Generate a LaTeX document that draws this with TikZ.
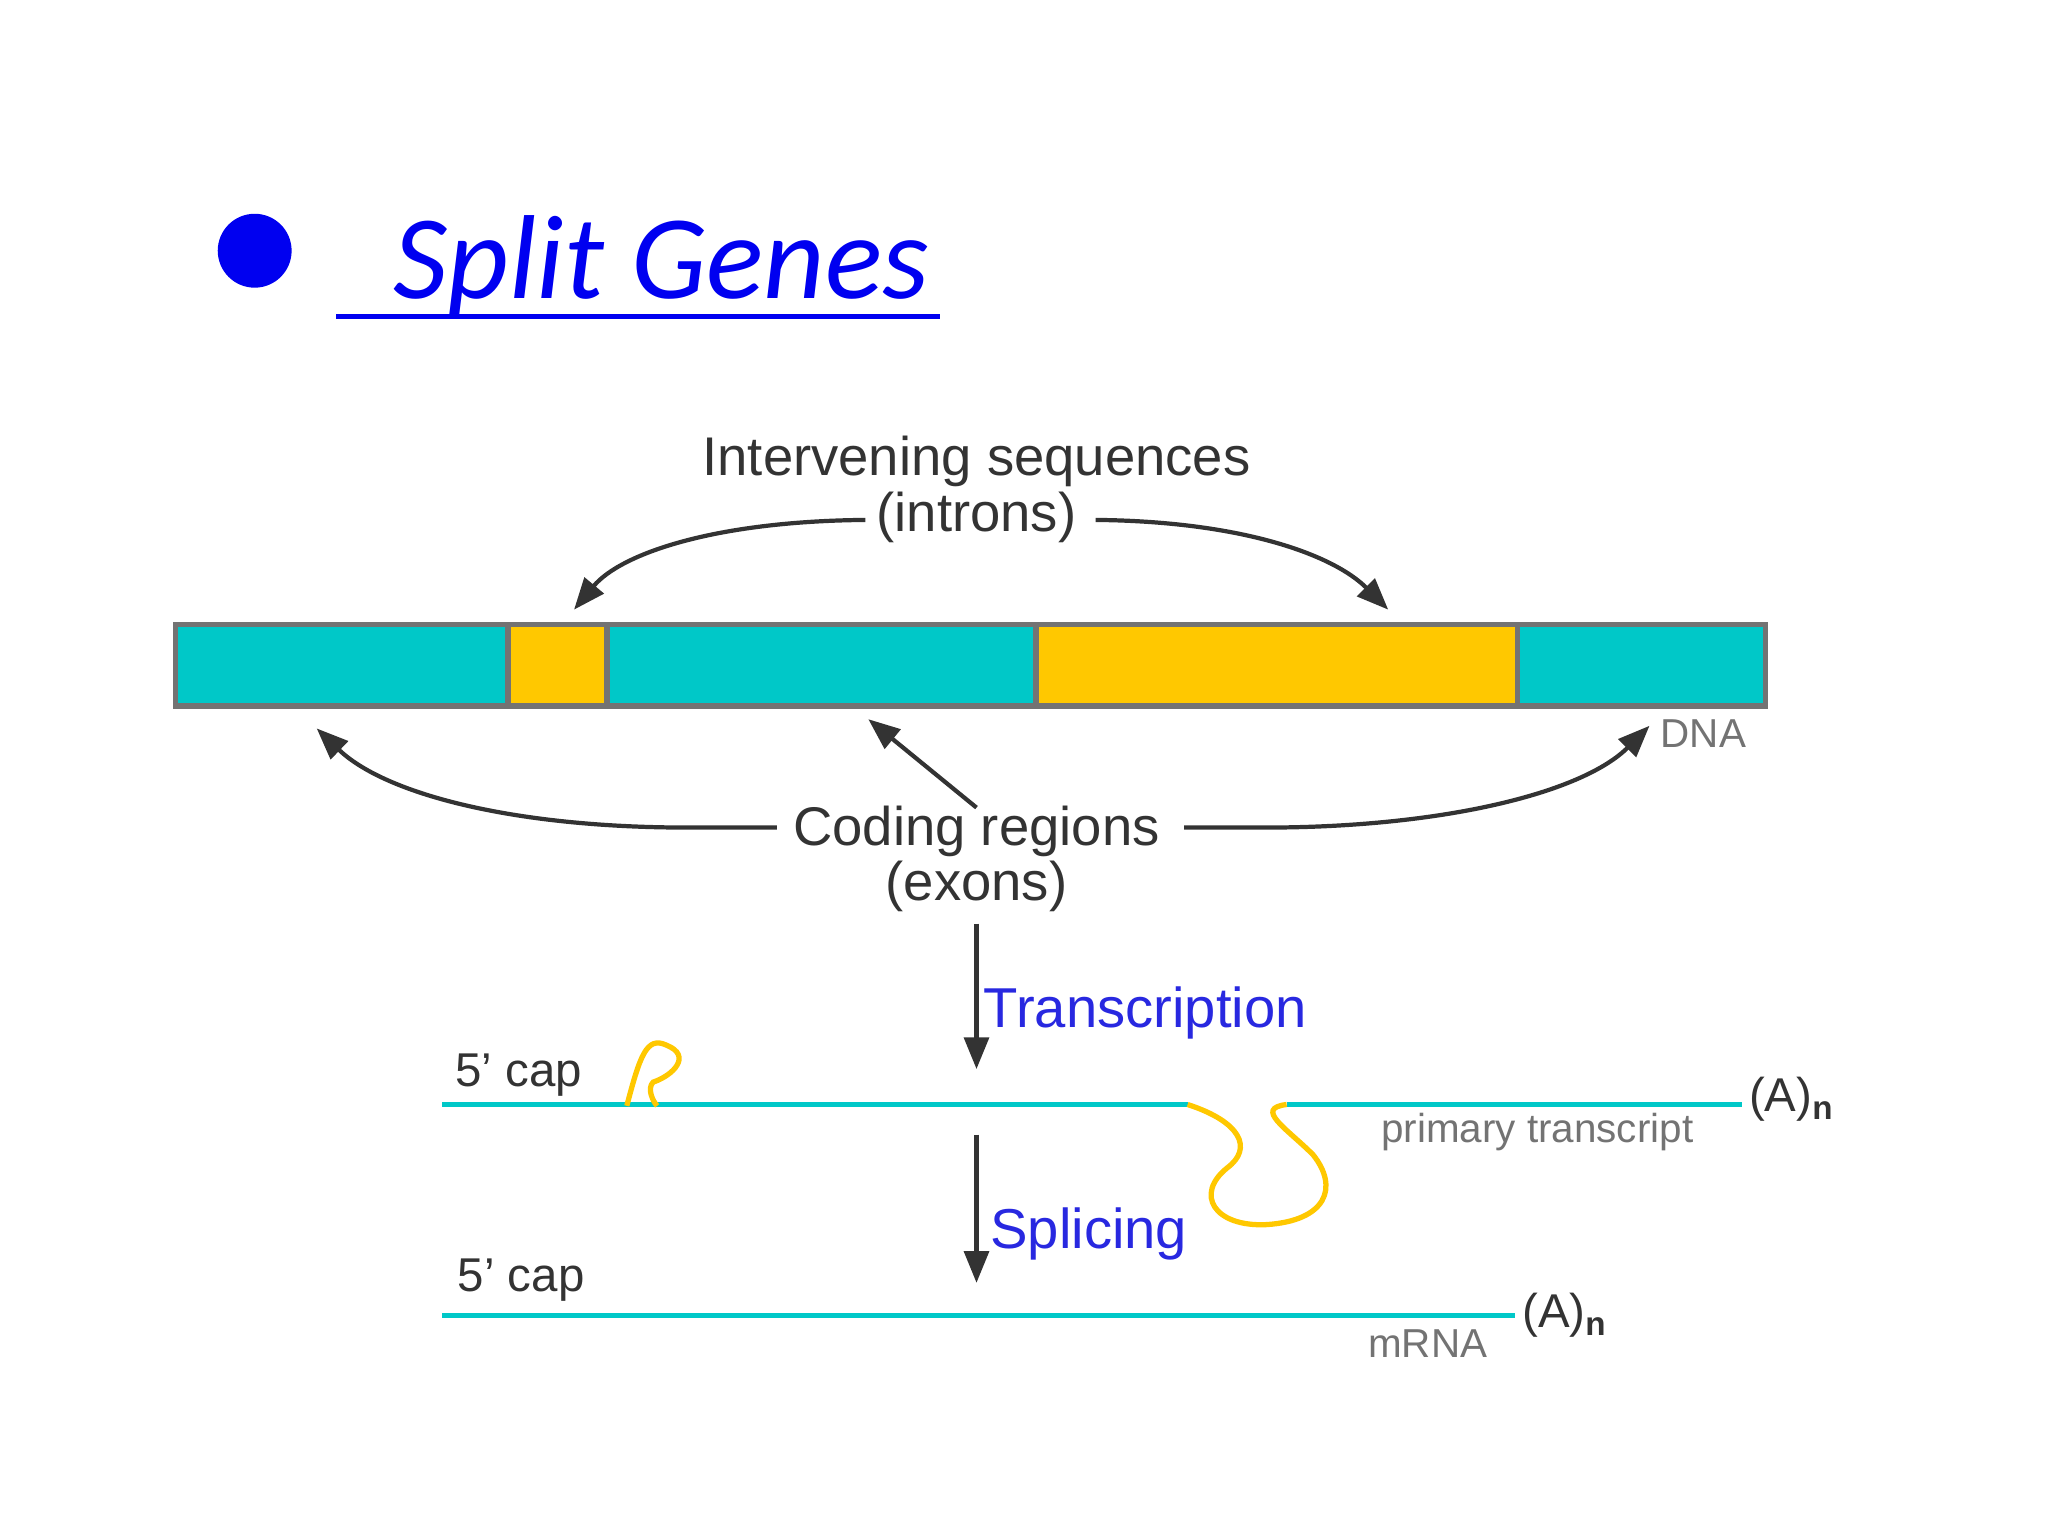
\documentclass[tikz,border=0pt]{standalone}
\usepackage{fontspec}
\setmainfont{Liberation Sans}
\newfontfamily\cali{Carlito}
\usetikzlibrary{arrows.meta}
\definecolor{cy}{HTML}{00C8C8}
\definecolor{ye}{HTML}{FFC800}
\definecolor{bl}{HTML}{0000F0}
\definecolor{lb}{HTML}{2828E0}
\begin{document}
\begin{tikzpicture}[x=0.013196cm,y=-0.013196cm,
 lbl/.style={font=\fontsize{15.5}{17}\selectfont,text=black!80,inner sep=0},
 sm/.style={font=\fontsize{11.5}{13}\selectfont,text=black!55,inner sep=0},
 captxt/.style={font=\fontsize{13.5}{15}\selectfont,text=black!80,inner sep=0},
 arr/.style={draw=black!80,line width=1.2pt,-{Triangle[length=9pt,width=7pt]}},
 seg/.style={draw=black!55,line width=1.5pt},
 rna/.style={draw=cy,line width=1.5pt},
 loopy/.style={draw=ye,line width=1.5pt}]
\useasboundingbox (0,0) rectangle (1552,1164);
\fill[bl] (193,190) circle (28);
\node[anchor=base west,inner sep=0,text=bl,font=\cali\itshape\fontsize{34}{40}\selectfont] (title) at (298,226) {Split Genes};
\draw[bl,line width=1.5pt] (255,240) -- (712,240);
% DNA
\path[seg,fill=cy] (133,473) rectangle (385,535);
\path[seg,fill=ye] (385,473) rectangle (460,535);
\path[seg,fill=cy] (460,473) rectangle (785,535);
\path[seg,fill=ye] (785,473) rectangle (1150,535);
\path[seg,fill=cy] (1150,473) rectangle (1338,535);
\coordinate (i1) at (435,462); \coordinate (i2) at (1052,462);
\coordinate (e1) at (240,552); \coordinate (e2) at (658,545); \coordinate (e3) at (1250,550);
\node[lbl] (iv) at (740,350) {Intervening sequences};
\node[lbl] (in) at (740,392) {(introns)};
\draw[arr] (in.west) ++(-8,2) .. controls (540,395) and (470,420) .. (i1);
\draw[arr] (in.east) ++(14,2) .. controls (940,395) and (1010,420) .. (i2);
\node[lbl] (cr) at (740,630) {Coding regions};
\node[lbl] (ex) at (740,672) {(exons)};
\draw[arr] (cr.west) ++(-12,-3) -- (505,627) .. controls (380,625) and (290,600) .. (e1);
\draw[arr] (740,612) -- (e2);
\draw[arr] (cr.east) ++(18,-3) -- (975,627) .. controls (1100,625) and (1200,600) .. (e3);
\node[sm,anchor=west] (dna) at (1258,556) {DNA};
% transcription
\node[inner sep=0] (t0) at (740,698) {}; \node[inner sep=0] (t1) at (740,812) {};
\draw[arr] (t0) -- (t1);
\node[anchor=west,inner sep=0,text=lb,font=\fontsize{16}{18}\selectfont] (tr) at (745,768) {Transcription};
\node[captxt] (c1) at (393,815) {5' cap};
\draw[rna] (335,837) -- (900,837);
\draw[rna] (975,837) -- (1320,837);
\draw[loopy] (475,838) .. controls (485,800) and (490,785) .. (505,792) .. controls (525,800) and (510,815) .. (495,820) .. controls (490,825) and (495,835) .. (498,838);
\draw[loopy] (900,837) .. controls (940,850) and (950,870) .. (930,885) .. controls (905,905) and (920,930) .. (960,928) .. controls (1005,925) and (1015,900) .. (995,875) .. controls (975,855) and (950,840) .. (975,837);
\node[captxt,anchor=west] (a1) at (1325,833) {(A)\textsubscript{\bfseries n}};
\node[sm] (pt) at (1165,858) {primary transcript};
% splicing
\node[inner sep=0] (s0) at (740,858) {}; \node[inner sep=0] (s1) at (740,974) {};
\draw[arr] (s0) -- (s1);
\node[anchor=west,inner sep=0,text=lb,font=\fontsize{16}{18}\selectfont] (sp) at (750,935) {Splicing};
\node[captxt] (c2) at (395,970) {5' cap};
\draw[rna] (335,997) -- (1148,997);
\node[captxt,anchor=west] (a2) at (1153,997) {(A)\textsubscript{\bfseries n}};
\node[sm] (mr) at (1082,1018) {mRNA};
\end{tikzpicture}
\end{document}
